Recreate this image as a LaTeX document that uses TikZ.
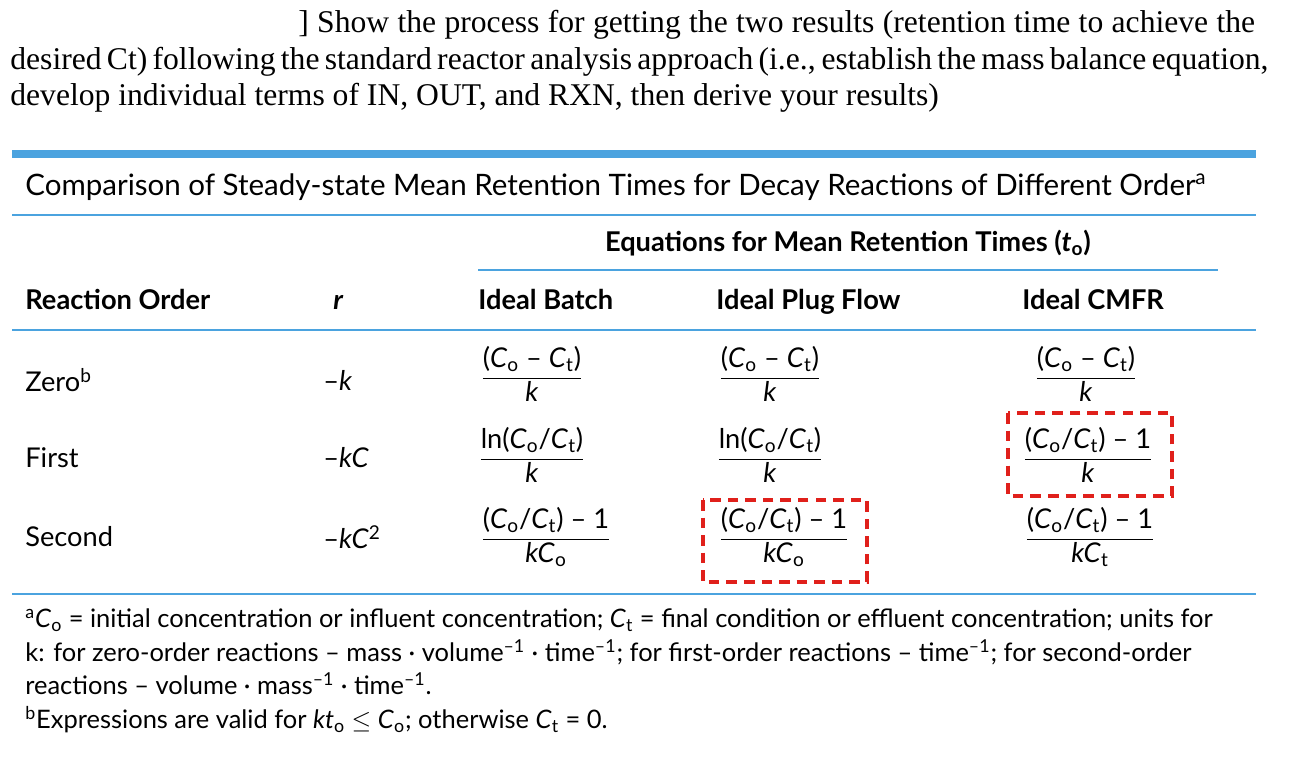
\documentclass[tikz,border=0pt]{standalone}
\usepackage{fontspec}
\setmainfont{Liberation Serif}
\setsansfont{Lato}
\usetikzlibrary{positioning}
\definecolor{barBlue}{HTML}{4BA3DF}
\definecolor{boxRed}{HTML}{E0201B}
\newcommand{\so}{\textsubscript{o}}
\newcommand{\st}{\textsubscript{t}}
\newcommand{\frc}[2]{$\displaystyle\frac{\mbox{#1}}{\mbox{#2}}$}

\begin{document}
\begin{tikzpicture}[x=0.02cm,y=-0.02cm]
  \tikzstyle{prose}=[anchor=west,inner sep=0pt,font=\fontsize{18}{22}\selectfont]
  \tikzstyle{cell}=[anchor=west,inner sep=0pt,font=\sffamily\fontsize{15.5}{18}\selectfont]
  \tikzstyle{head}=[anchor=base west,inner sep=0pt,font=\sffamily\bfseries\fontsize{15.5}{18}\selectfont]
  \tikzstyle{eq}=[inner sep=0pt,font=\sffamily\fontsize{15.5}{18}\selectfont]
  \tikzstyle{foot}=[anchor=west,inner sep=0pt,font=\sffamily\fontsize{14.5}{17}\selectfont]
  \tikzstyle{rule}=[barBlue,line width=1pt]
  \tikzstyle{pick}=[draw=boxRed,dashed,line width=2.2pt,dash pattern=on 6pt off 4pt]

  \useasboundingbox (0,0) rectangle (1308,768);

  % question text
  \node[prose] (q1) at (298,25) {\makebox[19.14cm][s]{] Show the process for getting the two results (retention time to achieve the}};
  \node[prose] (q2) at (10,62) {\makebox[24.9cm][s]{desired Ct) following the standard reactor analysis approach (i.e., establish the mass balance equation,}};
  \node[prose] (q3) at (10,98) {develop individual terms of IN, OUT, and RXN, then derive your results)};

  % title and rules
  \fill[barBlue] (12,150) rectangle (1256,158);
  \node[cell,font=\sffamily\fontsize{16.8}{20}\selectfont] (title) at (25,187)
    {Comparison of Steady-state Mean Retention Times for Decay Reactions of Different Order\textsuperscript{a}};
  \draw[rule] (12,215) -- (1256,215);
  \node[eq,font=\sffamily\bfseries\fontsize{15.5}{18}\selectfont] (eqhead) at (848,243)
    {Equations for Mean Retention Times (\textit{t}\so)};
  \draw[rule] (478,270) -- (1218,270);

  % header row
  \node[head] (hOrder) at (25,309) {Reaction Order};
  \node[head] (hR) at (333,309) {\textit{r}};
  \node[head] (hBatch) at (478,309) {Ideal Batch};
  \node[head] (hPlug) at (716,309) {Ideal Plug Flow};
  \node[head] (hCmfr) at (1022,309) {Ideal CMFR};
  \draw[rule] (12,330) -- (1256,330);

  % rows
  \node[cell] (zero) at (25,380) {Zero\textsuperscript{b}};
  \node[cell] (first) at (25,458) {First};
  \node[cell] (second) at (25,537) {Second};
  \node[cell] (rZero) at (323,380) {–\textit{k}};
  \node[cell] (rFirst) at (323,458) {–\textit{kC}};
  \node[cell] (rSecond) at (323,537) {–\textit{kC}\textsuperscript{2}};

  \foreach \name/\x in {Batch/532,Plug/770}
    \node[eq] (z\name) at (\x,374) {\frc{(\textit{C}\so\ – \textit{C}\st)}{\textit{k}}};
  \node[eq] (zCmfr) at (1086,374) {\frc{(\textit{C}\so\ – \textit{C}\st)}{\textit{k}}};
  \node[eq] (fBatch) at (532,455) {\frc{ln(\textit{C}\so/\textit{C}\st)}{\textit{k}}};
  \node[eq] (fPlug) at (770,455) {\frc{ln(\textit{C}\so/\textit{C}\st)}{\textit{k}}};
  \node[eq] (fCmfr) at (1088,455) {\frc{(\textit{C}\so/\textit{C}\st) – 1}{\textit{k}}};
  \node[eq] (sBatch) at (546,537) {\frc{(\textit{C}\so/\textit{C}\st) – 1}{\textit{kC}\so}};
  \node[eq] (sPlug) at (784,537) {\frc{(\textit{C}\so/\textit{C}\st) – 1}{\textit{kC}\so}};
  \node[eq] (sCmfr) at (1090,537) {\frc{(\textit{C}\so/\textit{C}\st) – 1}{\textit{kC}\st}};

  % highlighted answers
  \draw[pick] (1008,413) rectangle (1172,496);
  \draw[pick] (703,500) rectangle (867,582);

  \draw[rule] (12,594) -- (1256,594);

  % footnotes
  \node[foot] (fnA1) at (25,620) {\textsuperscript{a}\textit{C}\so\ = initial concentration or influent concentration; \textit{C}\st\ = final condition or effluent concentration; units for};
  \node[foot] (fnA2) at (25,652) {k: for zero-order reactions – mass · volume\textsuperscript{–1} · time\textsuperscript{–1}; for first-order reactions – time\textsuperscript{–1}; for second-order};
  \node[foot] (fnA3) at (25,684) {reactions – volume · mass\textsuperscript{–1} · time\textsuperscript{–1}.};
  \node[foot] (fnB) at (25,720) {\textsuperscript{b}Expressions are valid for \textit{kt}\so\ $\leq$ \textit{C}\so; otherwise \textit{C}\st\ = 0.};
\end{tikzpicture}
\end{document}
